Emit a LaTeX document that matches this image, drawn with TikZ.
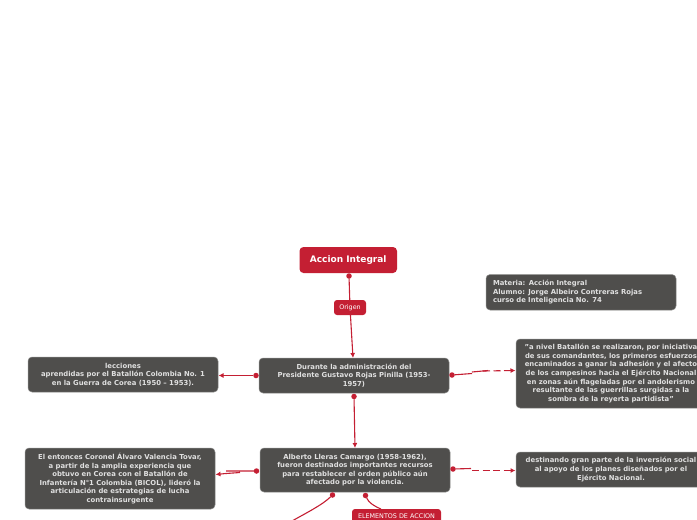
\documentclass[tikz,border=0pt]{standalone}
\usepackage{fontspec}
\setmainfont{DejaVu Sans}
\usetikzlibrary{arrows.meta}
\definecolor{redc}{HTML}{C41F33}
\definecolor{greyc}{HTML}{4F4E4C}
\definecolor{edgec}{HTML}{8A8A88}
\tikzset{
  x=1pt,y=-1pt,
  every node/.style={inner sep=0pt,outer sep=0pt},
  greybox/.style={fill=greyc,draw=edgec,line width=0.5pt,rounded corners=4pt,text=white!88!black,align=center,font=\bfseries\fontsize{6.85}{8.55}\selectfont},
  redbox/.style={fill=redc,rounded corners=3pt,text=white,align=center,font=\fontsize{6.4}{8}\selectfont},
  dotn/.style={circle,fill=redc,minimum size=5.5pt},
  link/.style={draw=redc,line width=1.1pt,-{Latex[length=5pt,width=5pt]}},
  plainlink/.style={draw=redc,line width=1.1pt},
  dashlink/.style={draw=redc,line width=1.1pt,dash pattern=on 7pt off 3.5pt,-{Latex[length=5pt,width=5pt]}}
}
\begin{document}
\begin{tikzpicture}
\useasboundingbox (0,0) rectangle (697,520);
\clip (0,0) rectangle (697,520);
% boxes
\node[redbox,minimum width=97.5pt,minimum height=26pt,font=\bfseries\fontsize{9}{10}\selectfont,rounded corners=4pt] (root) at (348.25,260) {\raisebox{-1pt}{Accion Integral}};
\node[redbox,minimum width=32pt,minimum height=15pt] (origen) at (350,307.5) {Origen};
\node[greybox,minimum width=190pt,minimum height=35pt] (durante) at (354,375.5) {Durante la administración del\\Presidente Gustavo Rojas Pinilla (1953-\\1957)};
\node[greybox,minimum width=190pt,minimum height=35pt] (lecc) at (123,374.5) {lecciones\\aprendidas por el Batallón Colombia No. 1\\en la Guerra de Corea (1950 – 1953).};
\node[greybox,minimum width=190pt,minimum height=35.5pt,align=left,text width=176pt] (mat) at (581,292.25) {Materia: Acción Integral\\Alumno: Jorge Albeiro Contreras Rojas\\curso de Inteligencia No. 74};
\node[greybox,minimum width=190pt,minimum height=69pt] (nivel) at (611,373.5) {"a nivel Batallón se realizaron, por iniciativa\\de sus comandantes, los primeros esfuerzos\\encaminados a ganar la adhesión y el afecto\\de los campesinos hacia el Ejército Nacional\\en zonas aún flageladas por el andolerismo\\resultante de las guerrillas surgidas a la\\sombra de la reyerta partidista"};
\node[greybox,minimum width=190pt,minimum height=44pt] (alberto) at (355,470) {Alberto Lleras Camargo (1958-1962),\\fueron destinados importantes recursos\\para restablecer el orden público aún\\afectado por la violencia.};
\node[greybox,minimum width=190pt,minimum height=61pt] (coronel) at (120,478.5) {El entonces Coronel Álvaro Valencia Tovar,\\a partir de la amplia experiencia que\\obtuvo en Corea con el Batallón de\\Infantería N°1 Colombia (BICOL), lideró la\\articulación de estrategias de lucha\\contrainsurgente};
\node[greybox,minimum width=190pt,minimum height=35pt] (dest) at (611,469.5) {destinando gran parte de la inversión social\\al apoyo de los planes diseñados por el\\Ejército Nacional.};
\node[redbox,minimum width=89pt,minimum height=20pt,anchor=north west] (elem) at (352,509) {\raisebox{5pt}{ELEMENTOS DE ACCION}};
% dots
\node[dotn] (d1) at (349,276) {};
\node[dotn] (d2) at (354,396.5) {};
\node[dotn] (d3) at (452,375) {};
\node[dotn] (d4) at (256,375.5) {};
\node[dotn] (d5) at (256.5,471) {};
\node[dotn] (d6) at (453,469) {};
\node[dotn] (d7) at (332.5,495) {};
\node[dotn] (d8) at (365.5,495.5) {};
\coordinate (offL) at (292,521);
\coordinate (elemtop) at (381,509);
\coordinate (t1) at (353,358);
\coordinate (t2) at (355,448);
\coordinate (t3) at (218.5,375.5);
\coordinate (a1) at (472,373.5);
\coordinate (a2) at (472,372);
\coordinate (a3) at (488,370.5);
\coordinate (a4) at (483,371);
\coordinate (a5) at (515.5,370.5);
\coordinate (b1) at (471,468.5);
\coordinate (b2) at (472,470.5);
\coordinate (b3) at (515.5,470.5);
\coordinate (c1) at (226,471);
\coordinate (c2) at (226,473.5);
\coordinate (c3) at (240,472.5);
\coordinate (c4) at (215.5,474.5);
% connectors
\draw[plainlink] (d1) -- (origen);
\draw[link] (origen) -- (t1);
\draw[link] (d2) -- (t2);
\draw[link] (d4) -- (t3);
\draw[plainlink] (d3) -- (a1) (a2) -- (a3);
\draw[dashlink] (a4) -- (a5);
\draw[plainlink] (d6) -- (b1);
\draw[dashlink] (b2) -- (b3);
\draw[plainlink] (d5) -- (c1) (c2) -- (c3);
\draw[dashlink] (c2) -- (c4);
\draw[plainlink] (d7) .. controls (322,505) and (308,512) .. (offL);
\draw[plainlink] (d8) .. controls (369,503) and (374,506) .. (elemtop);
\end{tikzpicture}
\end{document}
